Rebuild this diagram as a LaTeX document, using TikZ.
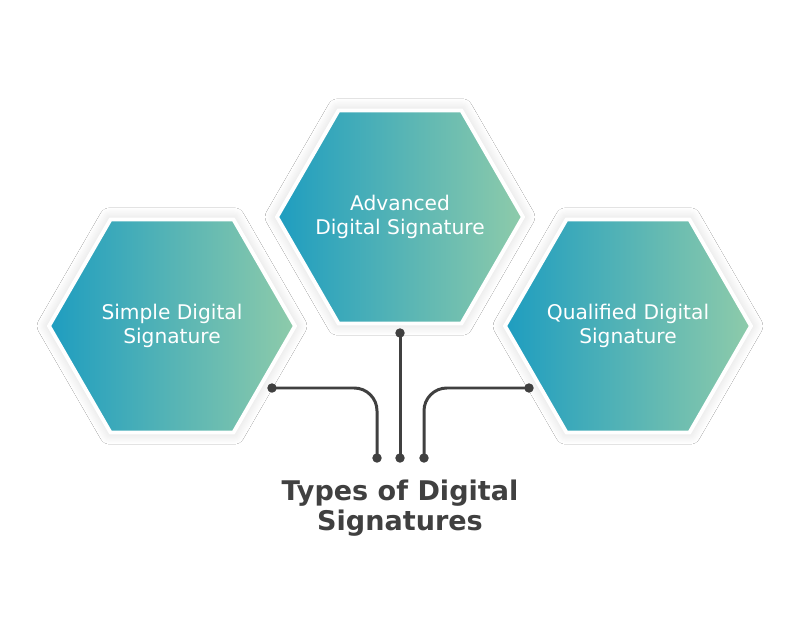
\documentclass[tikz,border=0pt]{standalone}
\usepackage{fontspec}
\setmainfont{DejaVu Sans}
\usepackage{tikz}
\usetikzlibrary{shapes.geometric,shadows.blur}
\definecolor{hexblue}{HTML}{1E9DC0}
\definecolor{hexgreen}{HTML}{8ECBAA}
\definecolor{wiregray}{HTML}{404040}
\tikzset{hexa/.style={regular polygon,regular polygon sides=6,minimum size=4.92cm,
    inner sep=0pt,draw=white,line width=2.2pt,left color=hexblue,right color=hexgreen,
    blur shadow={shadow xshift=0pt,shadow yshift=0pt,shadow blur radius=6pt,
      shadow opacity=16,shadow scale=1.01,shadow blur steps=10}},
  hexlabel/.style={text=white,align=center,font=\fontsize{11.5}{13.7}\selectfont},
  pin/.style={circle,fill=wiregray,inner sep=1.9pt},
  wire/.style={wiregray,line width=1.7pt,rounded corners=13pt}}

\begin{document}
\begin{tikzpicture}[x=0.02cm,y=-0.02cm]
  \useasboundingbox[fill=white] (0,0) rectangle (800,625);
  % the three hexagons
  \node (simple) at (172,326)[hexa,label={[hexlabel]center:Simple Digital\\Signature}]{};
       \node (advanced) at (400,217)[hexa,label={[hexlabel]center:Advanced\\Digital Signature}]{};
  \node (qualified) at (628,326)[hexa,label={[hexlabel]center:Qualified Digital\\Signature}]{};
  % dots
  \node (sdot) at (272,388)[pin]{};
         \node (adot) at (400,333)[pin]{};
  \node (qdot) at (529,388)[pin]{};
      \node (sfoot) at (377,458)[pin]{};
      \node (afoot) at (400,458)[pin]{};
      \node (qfoot) at (424,458)[pin]{};
  \draw [wire] (sdot.center) -| (sfoot.center);
  \draw [wire] (adot.center) -- (afoot.center);
  \draw [wire] (qdot.center) -| (qfoot.center);
  \node (title) at (400,508)[align=center,text=wiregray,font=\fontsize{15.4}{17}\selectfont\bfseries]{Types of Digital\\Signatures};
\end{tikzpicture}
\end{document}
